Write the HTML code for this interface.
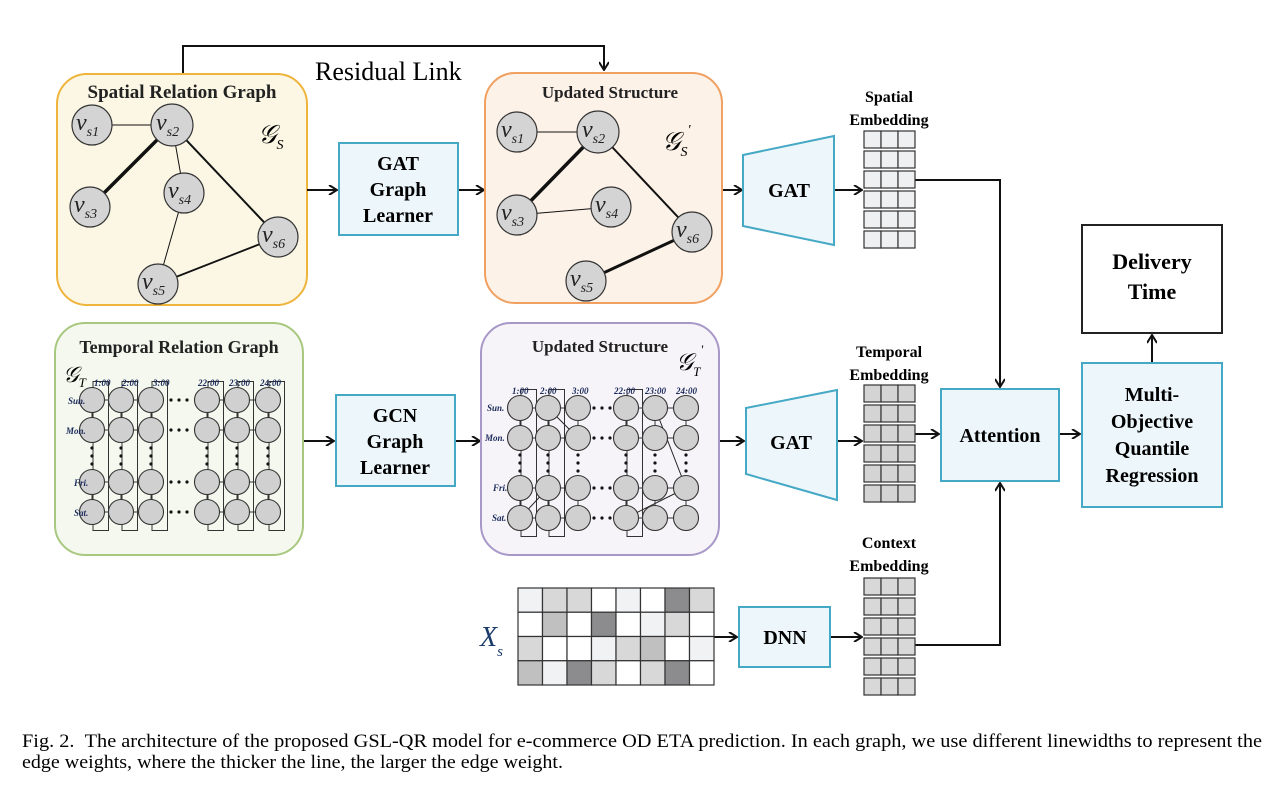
<!DOCTYPE html>
<html><head><meta charset="utf-8"><style>
html,body{margin:0;padding:0;background:#fff;}
svg{display:block;font-family:"Liberation Serif",serif;}
.b{font-weight:bold;}
</style></head><body>
<svg width="1283" height="788" viewBox="0 0 1283 788" xmlns="http://www.w3.org/2000/svg">
<defs>
<marker id="ar" viewBox="0 0 10 10" refX="9" refY="5" markerWidth="10" markerHeight="10" markerUnits="userSpaceOnUse" orient="auto"><path d="M1,0 L9,5 L1,10" fill="none" stroke="#111" stroke-width="2"/></marker>
</defs>
<g stroke="#111" stroke-width="2" fill="none">
<polyline points="183,74 183,46 604,46 604,70" marker-end="url(#ar)"/>
</g>
<text x="315" y="80" font-size="26">Residual Link</text>

<rect x="57" y="74" width="250" height="231" rx="30" fill="#fbf7e4" stroke="#efb43c" stroke-width="2"/>
<text x="182" y="98" font-size="19" class="b" text-anchor="middle" fill="#222">Spatial Relation Graph</text>
<text x="258" y="143" font-size="26" font-style="italic">𝒢<tspan font-size="14" dy="6">S</tspan></text>
<g stroke="#111" fill="none">
<line x1="92" y1="125" x2="172" y2="125" stroke-width="1"/>
<line x1="172" y1="125" x2="90" y2="207" stroke-width="3.5"/>
<line x1="172" y1="125" x2="184" y2="193" stroke-width="1"/>
<line x1="172" y1="125" x2="278" y2="237" stroke-width="2"/>
<line x1="184" y1="193" x2="158" y2="284" stroke-width="1"/>
<line x1="158" y1="284" x2="278" y2="237" stroke-width="1.8"/>
</g>
<g fill="#d4d4d4" stroke="#333" stroke-width="1.2">
<circle cx="92" cy="125" r="20"/><circle cx="172" cy="125" r="21"/><circle cx="90" cy="207" r="20"/>
<circle cx="184" cy="193" r="20"/><circle cx="278" cy="237" r="20"/><circle cx="158" cy="284" r="20"/>
</g>
<g font-size="24" font-style="italic" fill="#222">
<text x="76" y="130">v<tspan font-size="14" dy="6">s1</tspan></text>
<text x="156" y="130">v<tspan font-size="14" dy="6">s2</tspan></text>
<text x="74" y="212">v<tspan font-size="14" dy="6">s3</tspan></text>
<text x="168" y="198">v<tspan font-size="14" dy="6">s4</tspan></text>
<text x="262" y="242">v<tspan font-size="14" dy="6">s6</tspan></text>
<text x="142" y="289">v<tspan font-size="14" dy="6">s5</tspan></text>
</g>

<g stroke="#111" stroke-width="2" fill="none">
<line x1="307" y1="190" x2="337" y2="190" marker-end="url(#ar)"/>
<line x1="458" y1="190" x2="484" y2="190" marker-end="url(#ar)"/>
<line x1="722" y1="190" x2="742" y2="190" marker-end="url(#ar)"/>
<line x1="834" y1="190" x2="862" y2="190" marker-end="url(#ar)"/>
<polyline points="914,180 1000,180 1000,387" marker-end="url(#ar)"/>
<line x1="303" y1="441" x2="334" y2="441" marker-end="url(#ar)"/>
<line x1="455" y1="441" x2="480" y2="441" marker-end="url(#ar)"/>
<line x1="719" y1="441" x2="744" y2="441" marker-end="url(#ar)"/>
<line x1="837" y1="441" x2="862" y2="441" marker-end="url(#ar)"/>
<line x1="914" y1="434" x2="939" y2="434" marker-end="url(#ar)"/>
<polyline points="914,645 1000,645 1000,483" marker-end="url(#ar)"/>
<line x1="1059" y1="434" x2="1080" y2="434" marker-end="url(#ar)"/>
<line x1="1152" y1="363" x2="1152" y2="335" marker-end="url(#ar)"/>
<line x1="714" y1="637" x2="737" y2="637" marker-end="url(#ar)"/>
<line x1="830" y1="637" x2="862" y2="637" marker-end="url(#ar)"/>
</g>

<rect x="339" y="143" width="119" height="92" fill="#edf6fa" stroke="#45a9c6" stroke-width="2"/>
<text x="398" y="170" font-size="20" class="b" text-anchor="middle">GAT</text>
<text x="398" y="196" font-size="20" class="b" text-anchor="middle">Graph</text>
<text x="398" y="222" font-size="20" class="b" text-anchor="middle">Learner</text>

<rect x="485" y="73" width="237" height="230" rx="30" fill="#fdf2e8" stroke="#f0a060" stroke-width="2"/>
<text x="610" y="98" font-size="17" class="b" text-anchor="middle" fill="#222">Updated Structure</text>
<text x="662" y="150" font-size="26" font-style="italic">𝒢<tspan font-size="14" dy="6">S</tspan><tspan font-size="14" dy="-22">'</tspan></text>
<g stroke="#111" fill="none">
<line x1="517" y1="132" x2="598" y2="132" stroke-width="1"/>
<line x1="598" y1="132" x2="517" y2="215" stroke-width="3.5"/>
<line x1="517" y1="215" x2="611" y2="207" stroke-width="1"/>
<line x1="598" y1="132" x2="692" y2="232" stroke-width="2"/>
<line x1="586" y1="281" x2="692" y2="232" stroke-width="3"/>
</g>
<g fill="#d4d4d4" stroke="#333" stroke-width="1.2">
<circle cx="517" cy="132" r="20"/><circle cx="598" cy="132" r="21"/><circle cx="517" cy="215" r="20"/>
<circle cx="611" cy="207" r="20"/><circle cx="692" cy="232" r="20"/><circle cx="586" cy="281" r="20"/>
</g>
<g font-size="24" font-style="italic" fill="#222">
<text x="501" y="137">v<tspan font-size="14" dy="6">s1</tspan></text>
<text x="582" y="137">v<tspan font-size="14" dy="6">s2</tspan></text>
<text x="501" y="220">v<tspan font-size="14" dy="6">s3</tspan></text>
<text x="595" y="212">v<tspan font-size="14" dy="6">s4</tspan></text>
<text x="676" y="237">v<tspan font-size="14" dy="6">s6</tspan></text>
<text x="570" y="286">v<tspan font-size="14" dy="6">s5</tspan></text>
</g>

<polygon points="743,155 834,136 834,245 743,226" fill="#edf6fa" stroke="#45a9c6" stroke-width="2"/>
<text x="789" y="197" font-size="20" class="b" text-anchor="middle">GAT</text>
<polygon points="746,408 837,390 837,500 746,474" fill="#edf6fa" stroke="#45a9c6" stroke-width="2"/>
<text x="791" y="449" font-size="20" class="b" text-anchor="middle">GAT</text>

<text x="889" y="102" font-size="16" class="b" text-anchor="middle">Spatial</text>
<text x="889" y="125" font-size="16" class="b" text-anchor="middle">Embedding</text>
<text x="889" y="357" font-size="16" class="b" text-anchor="middle">Temporal</text>
<text x="889" y="380" font-size="16" class="b" text-anchor="middle">Embedding</text>
<text x="889" y="548" font-size="16" class="b" text-anchor="middle">Context</text>
<text x="889" y="571" font-size="16" class="b" text-anchor="middle">Embedding</text>
<g id="emb" stroke="#333" stroke-width="1.2"></g>

<rect x="55" y="323" width="248" height="232" rx="30" fill="#f5f8ee" stroke="#a8c880" stroke-width="2"/>
<text x="179" y="353" font-size="18" class="b" text-anchor="middle" fill="#222">Temporal Relation Graph</text>
<text x="63" y="382" font-size="22" font-style="italic">𝒢<tspan font-size="13" dy="5">T</tspan></text>
<g id="tg1"></g>

<rect x="336" y="395" width="119" height="91" fill="#edf6fa" stroke="#45a9c6" stroke-width="2"/>
<text x="395" y="422" font-size="20" class="b" text-anchor="middle">GCN</text>
<text x="395" y="448" font-size="20" class="b" text-anchor="middle">Graph</text>
<text x="395" y="474" font-size="20" class="b" text-anchor="middle">Learner</text>

<rect x="481" y="323" width="238" height="232" rx="30" fill="#f6f4f8" stroke="#a898c8" stroke-width="2"/>
<text x="600" y="352" font-size="17" class="b" text-anchor="middle" fill="#222">Updated Structure</text>
<text x="676" y="370" font-size="24" font-style="italic">𝒢<tspan font-size="13" dy="6">T</tspan><tspan font-size="13" dy="-22">'</tspan></text>
<g id="tg2"></g>

<rect x="941" y="389" width="118" height="92" fill="#edf6fa" stroke="#45a9c6" stroke-width="2"/>
<text x="1000" y="442" font-size="20" class="b" text-anchor="middle">Attention</text>
<rect x="1082" y="363" width="140" height="144" fill="#edf6fa" stroke="#45a9c6" stroke-width="2"/>
<text x="1152" y="401" font-size="20" class="b" text-anchor="middle">Multi-</text>
<text x="1152" y="428" font-size="20" class="b" text-anchor="middle">Objective</text>
<text x="1152" y="455" font-size="20" class="b" text-anchor="middle">Quantile</text>
<text x="1152" y="482" font-size="20" class="b" text-anchor="middle">Regression</text>
<rect x="1082" y="225" width="140" height="108" fill="#fff" stroke="#222" stroke-width="2"/>
<text x="1152" y="269" font-size="22" class="b" text-anchor="middle">Delivery</text>
<text x="1152" y="299" font-size="22" class="b" text-anchor="middle">Time</text>

<text x="480" y="646" font-size="28" font-style="italic" fill="#1a3a6a">X<tspan font-size="15" dy="10">s</tspan></text>
<g id="mat" stroke="#333" stroke-width="1.2"></g>
<rect x="739" y="607" width="91" height="60" fill="#edf6fa" stroke="#45a9c6" stroke-width="2"/>
<text x="785" y="644" font-size="20" class="b" text-anchor="middle">DNN</text>

<text x="22" y="747" font-size="18.5" textLength="1240" lengthAdjust="spacingAndGlyphs">Fig. 2.&#160;&#160;The architecture of the proposed GSL-QR model for e-commerce OD ETA prediction. In each graph, we use different linewidths to represent the</text>
<text x="22" y="768" font-size="18.5" textLength="541" lengthAdjust="spacingAndGlyphs">edge weights, where the thicker the line, the larger the edge weight.</text>

<g font-size="9" font-style="italic" font-weight="bold" fill="#1a2a5a">
<text x="94" y="386">1:00</text><text x="122" y="386">2:00</text><text x="153" y="386">3:00</text>
<text x="198" y="386">22:00</text><text x="229" y="386">23:00</text><text x="260" y="386">24:00</text>
<text x="68" y="404">Sun.</text><text x="66" y="434">Mon.</text><text x="74" y="486">Fri.</text><text x="74" y="516">Sat.</text>
<text x="512" y="394">1:00</text><text x="540" y="394">2:00</text><text x="572" y="394">3:00</text>
<text x="614" y="394">22:00</text><text x="645" y="394">23:00</text><text x="676" y="394">24:00</text>
<text x="487" y="411">Sun.</text><text x="485" y="441">Mon.</text><text x="493" y="491">Fri.</text><text x="492" y="521">Sat.</text>
</g>
</svg>
<script>
var NS="http://www.w3.org/2000/svg";
function el(p,t,a){var e=document.createElementNS(NS,t);for(var k in a)e.setAttribute(k,a[k]);p.appendChild(e);return e;}
var emb=document.getElementById('emb');
[[131,'#eef0f2'],[385,'#d4d4d4'],[578,'#d8d8d8']].forEach(function(s){
 for(var i=0;i<6;i++){for(var j=0;j<3;j++){el(emb,'rect',{x:864+j*17,y:s[0]+i*20,width:17,height:17,fill:s[1]});}}
});
var shades=[[1,2,2,0,1,0,4,2],[0,3,0,4,0,1,2,0],[2,0,0,1,2,3,0,1],[3,1,4,2,0,2,4,0]];
var cols=['#fff','#f0f2f4','#d8d8d8','#c0c0c0','#8c8c8e'];
var mat=document.getElementById('mat');
for(var r=0;r<4;r++)for(var c=0;c<8;c++)el(mat,'rect',{x:518+c*24.5,y:588+r*24.25,width:24.5,height:24.25,fill:cols[shades[r][c]]});
function grid(id,xs,ys,rr,boxes,extra){
 var g=document.getElementById(id);
 xs.forEach(function(x,i){ if(boxes.indexOf(i)>=0)el(g,'rect',{x:x+1,y:ys[0]-rr-6,width:rr+3,height:ys[3]-ys[0]+2*rr+12,fill:'none',stroke:'#333','stroke-width':1});});
 ys.forEach(function(y){for(var i=0;i<xs.length-1;i++){if(i==2)continue;el(g,'line',{x1:xs[i],y1:y,x2:xs[i+1],y2:y,stroke:'#333','stroke-width':1});}});
 xs.forEach(function(x){el(g,'line',{x1:x,y1:ys[0],x2:x,y2:ys[1],stroke:'#333','stroke-width':1});el(g,'line',{x1:x,y1:ys[2],x2:x,y2:ys[3],stroke:'#333','stroke-width':1});});
 if(extra)extra.forEach(function(l){el(g,'line',{x1:l[0],y1:l[1],x2:l[2],y2:l[3],stroke:'#222','stroke-width':1});});
 xs.forEach(function(x){ys.forEach(function(y){el(g,'circle',{cx:x,cy:y,r:rr,fill:'#d0d0d0',stroke:'#333','stroke-width':1.1});});
   for(var k=0;k<3;k++)el(g,'circle',{cx:x,cy:(ys[1]+ys[2])/2-8+k*8,r:1.6,fill:'#111'});});
 ys.forEach(function(y){for(var k=0;k<3;k++)el(g,'circle',{cx:(xs[2]+xs[3])/2-8+k*8,cy:y,r:1.6,fill:'#111'});});
}
grid('tg1',[92,121,151,207,237,268],[400,430,482,512],12.5,[0,1,2,3,4,5]);
grid('tg2',[520,548,578,626,655,686],[408,438,488,518],12.5,[0,1,3],[[548,408,578,438],[520,518,548,488],[626,518,686,488],[655,408,686,488]]);
</script>
</body></html>
